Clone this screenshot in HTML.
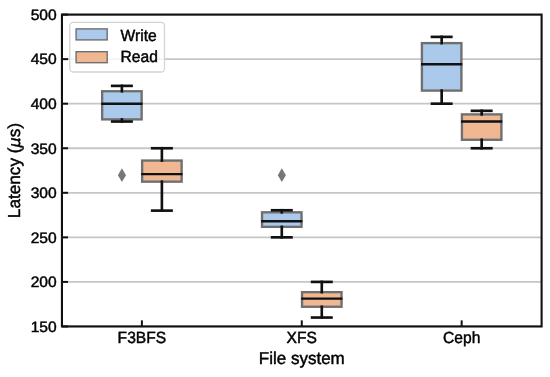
<!DOCTYPE html>
<html lang="en">
<head>
<meta charset="utf-8">
<title>Latency by file system</title>
<style>html,body{margin:0;padding:0;background:#fff}body{width:550px;height:377px;overflow:hidden}</style>
</head>
<body>
<svg width="550" height="377" viewBox="0 0 550 377" style="display:block">
<rect width="550" height="377" fill="#ffffff"/>
<line x1="61.95" x2="541.6" y1="326.45" y2="326.45" stroke="#c6c6c6" stroke-width="1.8"/>
<line x1="61.95" x2="541.6" y1="281.90" y2="281.90" stroke="#c6c6c6" stroke-width="1.8"/>
<line x1="61.95" x2="541.6" y1="237.35" y2="237.35" stroke="#c6c6c6" stroke-width="1.8"/>
<line x1="61.95" x2="541.6" y1="192.80" y2="192.80" stroke="#c6c6c6" stroke-width="1.8"/>
<line x1="61.95" x2="541.6" y1="148.25" y2="148.25" stroke="#c6c6c6" stroke-width="1.8"/>
<line x1="61.95" x2="541.6" y1="103.70" y2="103.70" stroke="#c6c6c6" stroke-width="1.8"/>
<line x1="61.95" x2="541.6" y1="59.15" y2="59.15" stroke="#c6c6c6" stroke-width="1.8"/>
<line x1="61.95" x2="541.6" y1="14.60" y2="14.60" stroke="#c6c6c6" stroke-width="1.8"/>
<rect x="102.14" y="91.23" width="39.50" height="28.16" fill="#abc9ea" stroke="#6f6f6f" stroke-width="2.35"/>
<line x1="121.89" x2="121.89" y1="85.88" y2="91.23" stroke="#111111" stroke-width="2.65" stroke-linecap="square"/>
<line x1="121.89" x2="121.89" y1="119.38" y2="121.52" stroke="#111111" stroke-width="2.65" stroke-linecap="square"/>
<line x1="110.89" x2="132.89" y1="85.88" y2="85.88" stroke="#111111" stroke-width="2.65"/>
<line x1="110.89" x2="132.89" y1="121.52" y2="121.52" stroke="#111111" stroke-width="2.65"/>
<line x1="101.24" x2="142.54" y1="103.70" y2="103.70" stroke="#111111" stroke-width="2.4"/>
<polygon points="121.94,168.23 125.99,175.13 121.94,182.03 117.89,175.13" fill="#777777"/>
<rect x="142.14" y="160.55" width="39.50" height="21.12" fill="#efb792" stroke="#6f6f6f" stroke-width="2.35"/>
<line x1="161.89" x2="161.89" y1="148.25" y2="160.55" stroke="#111111" stroke-width="2.65" stroke-linecap="square"/>
<line x1="161.89" x2="161.89" y1="181.66" y2="210.62" stroke="#111111" stroke-width="2.65" stroke-linecap="square"/>
<line x1="150.89" x2="172.89" y1="148.25" y2="148.25" stroke="#111111" stroke-width="2.65"/>
<line x1="150.89" x2="172.89" y1="210.62" y2="210.62" stroke="#111111" stroke-width="2.65"/>
<line x1="141.24" x2="182.54" y1="174.09" y2="174.09" stroke="#111111" stroke-width="2.4"/>
<rect x="262.03" y="212.31" width="39.50" height="14.52" fill="#abc9ea" stroke="#6f6f6f" stroke-width="2.35"/>
<line x1="281.78" x2="281.78" y1="210.26" y2="212.31" stroke="#111111" stroke-width="2.65" stroke-linecap="square"/>
<line x1="281.78" x2="281.78" y1="226.84" y2="237.35" stroke="#111111" stroke-width="2.65" stroke-linecap="square"/>
<line x1="270.78" x2="292.78" y1="210.26" y2="210.26" stroke="#111111" stroke-width="2.65"/>
<line x1="270.78" x2="292.78" y1="237.35" y2="237.35" stroke="#111111" stroke-width="2.65"/>
<line x1="261.13" x2="302.43" y1="221.31" y2="221.31" stroke="#111111" stroke-width="2.4"/>
<polygon points="281.83,168.23 285.88,175.13 281.83,182.03 277.78,175.13" fill="#777777"/>
<rect x="302.03" y="292.15" width="39.50" height="14.61" fill="#efb792" stroke="#6f6f6f" stroke-width="2.35"/>
<line x1="321.78" x2="321.78" y1="281.90" y2="292.15" stroke="#111111" stroke-width="2.65" stroke-linecap="square"/>
<line x1="321.78" x2="321.78" y1="306.76" y2="317.54" stroke="#111111" stroke-width="2.65" stroke-linecap="square"/>
<line x1="310.78" x2="332.78" y1="281.90" y2="281.90" stroke="#111111" stroke-width="2.65"/>
<line x1="310.78" x2="332.78" y1="317.54" y2="317.54" stroke="#111111" stroke-width="2.65"/>
<line x1="301.13" x2="342.43" y1="298.65" y2="298.65" stroke="#111111" stroke-width="2.4"/>
<rect x="421.91" y="43.11" width="39.50" height="47.49" fill="#abc9ea" stroke="#6f6f6f" stroke-width="2.35"/>
<line x1="441.66" x2="441.66" y1="36.88" y2="43.11" stroke="#111111" stroke-width="2.65" stroke-linecap="square"/>
<line x1="441.66" x2="441.66" y1="90.60" y2="103.70" stroke="#111111" stroke-width="2.65" stroke-linecap="square"/>
<line x1="430.66" x2="452.66" y1="36.88" y2="36.88" stroke="#111111" stroke-width="2.65"/>
<line x1="430.66" x2="452.66" y1="103.70" y2="103.70" stroke="#111111" stroke-width="2.65"/>
<line x1="421.01" x2="462.31" y1="64.23" y2="64.23" stroke="#111111" stroke-width="2.4"/>
<rect x="461.91" y="114.39" width="39.50" height="25.39" fill="#efb792" stroke="#6f6f6f" stroke-width="2.35"/>
<line x1="481.66" x2="481.66" y1="110.83" y2="114.39" stroke="#111111" stroke-width="2.65" stroke-linecap="square"/>
<line x1="481.66" x2="481.66" y1="139.79" y2="148.25" stroke="#111111" stroke-width="2.65" stroke-linecap="square"/>
<line x1="470.66" x2="492.66" y1="110.83" y2="110.83" stroke="#111111" stroke-width="2.65"/>
<line x1="470.66" x2="492.66" y1="148.25" y2="148.25" stroke="#111111" stroke-width="2.65"/>
<line x1="461.01" x2="502.31" y1="121.52" y2="121.52" stroke="#111111" stroke-width="2.4"/>
<line x1="61.95" x2="68.05" y1="326.45" y2="326.45" stroke="#111111" stroke-width="2.0"/>
<line x1="61.95" x2="68.05" y1="281.90" y2="281.90" stroke="#111111" stroke-width="2.0"/>
<line x1="61.95" x2="68.05" y1="237.35" y2="237.35" stroke="#111111" stroke-width="2.0"/>
<line x1="61.95" x2="68.05" y1="192.80" y2="192.80" stroke="#111111" stroke-width="2.0"/>
<line x1="61.95" x2="68.05" y1="148.25" y2="148.25" stroke="#111111" stroke-width="2.0"/>
<line x1="61.95" x2="68.05" y1="103.70" y2="103.70" stroke="#111111" stroke-width="2.0"/>
<line x1="61.95" x2="68.05" y1="59.15" y2="59.15" stroke="#111111" stroke-width="2.0"/>
<line x1="61.95" x2="68.05" y1="14.60" y2="14.60" stroke="#111111" stroke-width="2.0"/>
<line x1="141.89" x2="141.89" y1="326.45" y2="320.34999999999997" stroke="#111111" stroke-width="2.0"/>
<line x1="301.78" x2="301.78" y1="326.45" y2="320.34999999999997" stroke="#111111" stroke-width="2.0"/>
<line x1="461.66" x2="461.66" y1="326.45" y2="320.34999999999997" stroke="#111111" stroke-width="2.0"/>
<rect x="61.95" y="14.6" width="479.65" height="311.85" fill="none" stroke="#111111" stroke-width="2.1"/>
<rect x="69.8" y="22.3" width="94.7" height="49.7" rx="3.5" fill="#ffffff" fill-opacity="0.8" stroke="#d4d4d4" stroke-width="1.3"/>
<rect x="76.1" y="28.9" width="31.1" height="11.0" fill="#abc9ea" stroke="#6f6f6f" stroke-width="1.4"/>
<rect x="76.1" y="51.7" width="31.1" height="11.0" fill="#efb792" stroke="#6f6f6f" stroke-width="1.4"/>
<text transform="translate(120.50 40.50) scale(0.965 1)" text-anchor="start" font-family="'Liberation Sans', sans-serif" font-size="16.2" fill="#000" stroke="#000" stroke-width="0.45" stroke-linejoin="round" text-rendering="geometricPrecision">Write</text>
<text transform="translate(120.50 62.35) scale(0.965 1)" text-anchor="start" font-family="'Liberation Sans', sans-serif" font-size="16.2" fill="#000" stroke="#000" stroke-width="0.45" stroke-linejoin="round" text-rendering="geometricPrecision">Read</text>
<text transform="translate(56.70 331.70) scale(1.04 1)" text-anchor="end" font-family="'Liberation Sans', sans-serif" font-size="15.0" fill="#000" stroke="#000" stroke-width="0.45" stroke-linejoin="round" text-rendering="geometricPrecision">150</text>
<text transform="translate(56.70 287.15) scale(1.04 1)" text-anchor="end" font-family="'Liberation Sans', sans-serif" font-size="15.0" fill="#000" stroke="#000" stroke-width="0.45" stroke-linejoin="round" text-rendering="geometricPrecision">200</text>
<text transform="translate(56.70 242.60) scale(1.04 1)" text-anchor="end" font-family="'Liberation Sans', sans-serif" font-size="15.0" fill="#000" stroke="#000" stroke-width="0.45" stroke-linejoin="round" text-rendering="geometricPrecision">250</text>
<text transform="translate(56.70 198.05) scale(1.04 1)" text-anchor="end" font-family="'Liberation Sans', sans-serif" font-size="15.0" fill="#000" stroke="#000" stroke-width="0.45" stroke-linejoin="round" text-rendering="geometricPrecision">300</text>
<text transform="translate(56.70 153.50) scale(1.04 1)" text-anchor="end" font-family="'Liberation Sans', sans-serif" font-size="15.0" fill="#000" stroke="#000" stroke-width="0.45" stroke-linejoin="round" text-rendering="geometricPrecision">350</text>
<text transform="translate(56.70 108.95) scale(1.04 1)" text-anchor="end" font-family="'Liberation Sans', sans-serif" font-size="15.0" fill="#000" stroke="#000" stroke-width="0.45" stroke-linejoin="round" text-rendering="geometricPrecision">400</text>
<text transform="translate(56.70 64.40) scale(1.04 1)" text-anchor="end" font-family="'Liberation Sans', sans-serif" font-size="15.0" fill="#000" stroke="#000" stroke-width="0.45" stroke-linejoin="round" text-rendering="geometricPrecision">450</text>
<text transform="translate(56.70 19.85) scale(1.04 1)" text-anchor="end" font-family="'Liberation Sans', sans-serif" font-size="15.0" fill="#000" stroke="#000" stroke-width="0.45" stroke-linejoin="round" text-rendering="geometricPrecision">500</text>
<text transform="translate(141.89 342.70) scale(0.965 1)" text-anchor="middle" font-family="'Liberation Sans', sans-serif" font-size="16.2" fill="#000" stroke="#000" stroke-width="0.45" stroke-linejoin="round" text-rendering="geometricPrecision">F3BFS</text>
<text transform="translate(301.78 342.70) scale(0.965 1)" text-anchor="middle" font-family="'Liberation Sans', sans-serif" font-size="16.2" fill="#000" stroke="#000" stroke-width="0.45" stroke-linejoin="round" text-rendering="geometricPrecision">XFS</text>
<text transform="translate(461.66 342.70) scale(0.965 1)" text-anchor="middle" font-family="'Liberation Sans', sans-serif" font-size="16.2" fill="#000" stroke="#000" stroke-width="0.45" stroke-linejoin="round" text-rendering="geometricPrecision">Ceph</text>
<text transform="translate(301.80 363.80) scale(0.985 1)" text-anchor="middle" font-family="'Liberation Sans', sans-serif" font-size="17.25" fill="#000" stroke="#000" stroke-width="0.45" stroke-linejoin="round" text-rendering="geometricPrecision">File system</text>
<text transform="translate(20.10 170.55) rotate(-90) scale(0.997 1)" text-anchor="middle" font-family="'Liberation Sans', sans-serif" font-size="17.25" fill="#000" stroke="#000" stroke-width="0.45" stroke-linejoin="round" text-rendering="geometricPrecision">Latency (<tspan font-family="DejaVu Sans, Liberation Sans, sans-serif" font-style="italic" font-size="16">μ</tspan>s)</text>
</svg>
</body>
</html>
